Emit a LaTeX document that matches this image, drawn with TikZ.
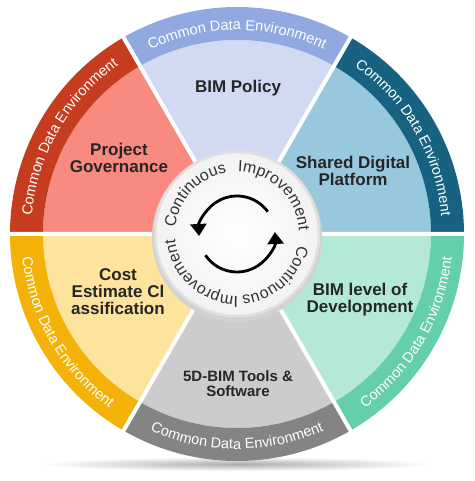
\documentclass[tikz,border=0pt]{standalone}
\usepackage{fontspec}
\setsansfont{Liberation Sans}
\usetikzlibrary{decorations.text,arrows.meta}

% Colores de anillos y sectores
\definecolor{anilloAzul}{RGB}{146,168,224}
\definecolor{sectorAzul}{RGB}{210,218,241}
\definecolor{anilloPetroleo}{RGB}{22,98,128}
\definecolor{sectorCeleste}{RGB}{152,200,221}
\definecolor{anilloMenta}{RGB}{100,207,170}
\definecolor{sectorMenta}{RGB}{180,234,213}
\definecolor{anilloGris}{RGB}{132,132,132}
\definecolor{sectorGris}{RGB}{204,204,204}
\definecolor{anilloAmbar}{RGB}{244,178,8}
\definecolor{sectorAmarillo}{RGB}{253,227,156}
\definecolor{anilloRojo}{RGB}{198,60,30}
\definecolor{sectorRosa}{RGB}{249,138,128}
\definecolor{textoCentro}{RGB}{50,50,50}

\begin{document}
\begin{tikzpicture}[x=1pt,y=1pt,
    rotulo/.style={font=\sffamily\bfseries\fontsize{17}{17}\selectfont, align=center, text=black!85},
    ciclo/.style={line width=2.8pt, -{Triangle[width=16pt,length=12pt]}},
    cde/.style={decorate, decoration={text along path, text color=white, text align=center,
        text={|\sffamily\fontsize{14.5}{14.5}\selectfont|Common Data Environment}}},
    mejora/.style={decorate, decoration={text along path, text color=textoCentro, text align=center,
        text={|\sffamily\fontsize{16}{16}\selectfont|#1}}}
]
    \useasboundingbox (-237,-247) rectangle (237,234);

    % Sombra bajo el disco
    \shade[inner color=gray!65, outer color=white] (0,-230) ellipse[x radius=195pt, y radius=7pt];

    % Sector superior (BIM Policy)
    \fill[sectorAzul] (0,0) -- (60:194pt) arc[start angle=60, end angle=120, radius=194pt] -- cycle;
    \fill[anilloAzul] (60:227pt) arc[start angle=60, end angle=120, radius=227pt]
        -- (120:194pt) arc[start angle=120, end angle=60, radius=194pt] -- cycle;
    \path[cde] (120:204pt) arc[start angle=120, end angle=60, radius=204pt];

    % Sector superior derecho (Shared Digital Platform)
    \fill[sectorCeleste] (0,0) -- (0:194pt) arc[start angle=0, end angle=60, radius=194pt] -- cycle;
    \fill[anilloPetroleo] (0:227pt) arc[start angle=0, end angle=60, radius=227pt]
        -- (60:194pt) arc[start angle=60, end angle=0, radius=194pt] -- cycle;
    \path[cde] (60:205pt) arc[start angle=60, end angle=0, radius=205pt];

    % Sector inferior derecho (BIM level of Development)
    \fill[sectorMenta] (0,0) -- (300:194pt) arc[start angle=300, end angle=360, radius=194pt] -- cycle;
    \fill[anilloMenta] (300:227pt) arc[start angle=300, end angle=360, radius=227pt]
        -- (360:194pt) arc[start angle=360, end angle=300, radius=194pt] -- cycle;
    \path[cde] (300:216pt) arc[start angle=300, end angle=360, radius=216pt];

    % Sector inferior (5D-BIM Tools & Software)
    \fill[sectorGris] (0,0) -- (240:194pt) arc[start angle=240, end angle=300, radius=194pt] -- cycle;
    \fill[anilloGris] (240:227pt) arc[start angle=240, end angle=300, radius=227pt]
        -- (300:194pt) arc[start angle=300, end angle=240, radius=194pt] -- cycle;
    \path[cde] (240:215pt) arc[start angle=240, end angle=300, radius=215pt];

    % Sector inferior izquierdo (Cost Estimate)
    \fill[sectorAmarillo] (0,0) -- (180:194pt) arc[start angle=180, end angle=240, radius=194pt] -- cycle;
    \fill[anilloAmbar] (180:227pt) arc[start angle=180, end angle=240, radius=227pt]
        -- (240:194pt) arc[start angle=240, end angle=180, radius=194pt] -- cycle;
    \path[cde] (180:216pt) arc[start angle=180, end angle=240, radius=216pt];

    % Sector superior izquierdo (Project Governance)
    \fill[sectorRosa] (0,0) -- (120:194pt) arc[start angle=120, end angle=180, radius=194pt] -- cycle;
    \fill[anilloRojo] (120:227pt) arc[start angle=120, end angle=180, radius=227pt]
        -- (180:194pt) arc[start angle=180, end angle=120, radius=194pt] -- cycle;
    \path[cde] (180:206pt) arc[start angle=180, end angle=120, radius=206pt];

    % Separaciones blancas entre sectores
    \draw[white, line width=4pt] (0:83pt) -- (0:232pt) (60:83pt) -- (60:232pt)
        (120:83pt) -- (120:232pt) (180:83pt) -- (180:232pt)
        (240:83pt) -- (240:232pt) (300:83pt) -- (300:232pt);

    % Etiquetas de los sectores
    \node[rotulo] (politica) at (1,146) {BIM Policy};
    \node[rotulo] (plataforma) at (116,63) {Shared Digital\\Platform};
    \node[rotulo] (nivel) at (123,-66) {BIM level of\\Development};
    \node[rotulo, font=\sffamily\bfseries\fontsize{15}{15}\selectfont] (herramientas) at (1,-150) {5D-BIM Tools \&\\Software};
    \node[rotulo] (costes) at (-119,-58) {Cost\\Estimate Cl\\assification};
    \node[rotulo] (gobernanza) at (-118,76) {Project\\Governance};

    % Disco central
    \fill[gray!35] (0,-3) circle[radius=85pt];
    \shade[inner color=white, outer color=gray!10] (0,0) circle[radius=83pt];
    \draw[gray!25, line width=2.5pt] (0,0) circle[radius=82pt];

    % Texto circular (palabra a palabra)
    \path[mejora=Continuous] (182:62pt) arc[start angle=182, end angle=92, radius=62pt];
    \path[mejora=Improvement] (92:62pt) arc[start angle=92, end angle=0, radius=62pt];
    \path[mejora=Continuous] (-6:62pt) arc[start angle=-6, end angle=-90, radius=62pt];
    \path[mejora=Improvement] (-86:62pt) arc[start angle=-86, end angle=-178, radius=62pt];

    % Flechas del ciclo
    \draw[ciclo] (36:38pt) arc[start angle=36, end angle=183, radius=38pt];
    \draw[ciclo] (214:38pt) arc[start angle=214, end angle=363, radius=38pt];

\end{tikzpicture}
\end{document}
